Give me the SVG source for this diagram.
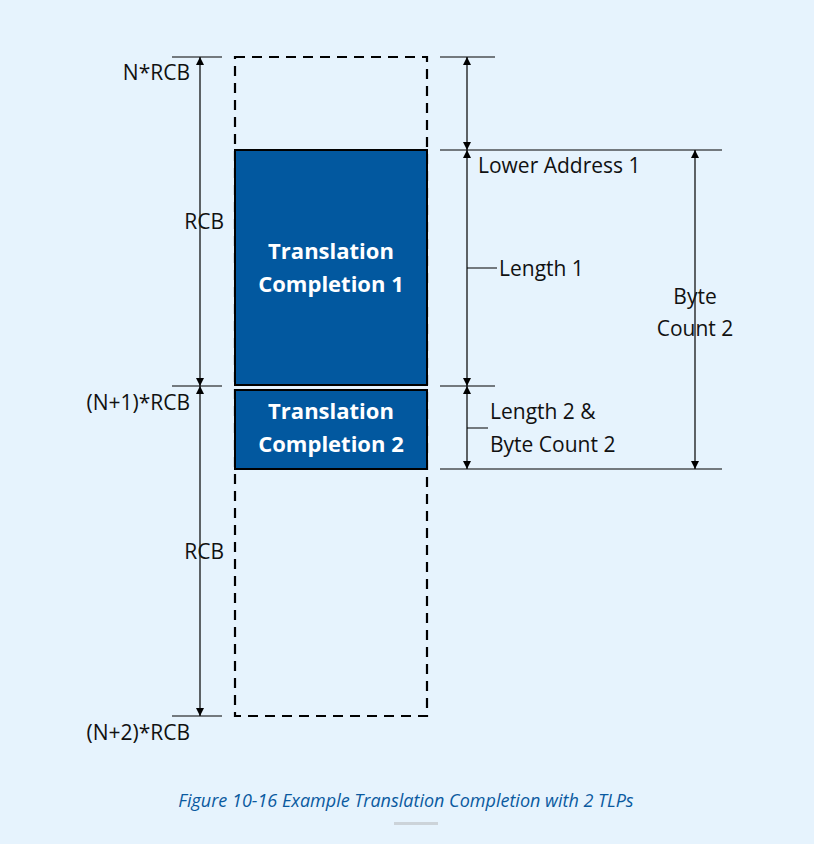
<svg xmlns="http://www.w3.org/2000/svg" width="814" height="844" viewBox="0 0 814 844">
<style>
.l{stroke:#000;stroke-width:1.2;fill:none}
.t{font-family:"Open Sans","Noto Sans",sans-serif;font-size:21px;fill:#111}
.w{font-family:"Open Sans","Noto Sans",sans-serif;font-size:22px;font-weight:bold;fill:#fff;text-anchor:middle}
</style>
<defs>
<marker id="a" viewBox="0 0 10 10" refX="10" refY="5" markerWidth="8" markerHeight="10" markerUnits="userSpaceOnUse" orient="auto-start-reverse"><path d="M0,0L10,5L0,10z" fill="#000"/></marker>
</defs>
<rect width="814" height="844" fill="#e6f3fd"/>
<g id="frame"><rect x="235" y="57" width="192" height="659" fill="none" stroke="#000" stroke-width="2.2" stroke-dasharray="10,7"/></g>
<g id="tc1"><rect x="235" y="150" width="192" height="235" fill="#02589f" stroke="#000" stroke-width="2"/>
<text class="w" x="331" y="259">Translation</text><text class="w" x="331" y="292">Completion 1</text></g>
<g id="tc2"><rect x="235" y="390" width="192" height="79" fill="#02589f" stroke="#000" stroke-width="2"/>
<text class="w" x="331" y="419">Translation</text><text class="w" x="331" y="452">Completion 2</text></g>
<g id="connectors">
<path class="l" d="M172,57H222M172,386H222M172,716H222M440,57H495M440,150H722M440,386H495M440,469H722M467,268H497M467,428H488"/>
<line class="l" x1="200" y1="386" x2="200" y2="57" marker-end="url(#a)" marker-start="url(#a)"/>
<line class="l" x1="200" y1="716" x2="200" y2="386" marker-end="url(#a)" marker-start="url(#a)"/>
<line class="l" x1="467" y1="57" x2="467" y2="150" marker-end="url(#a)" marker-start="url(#a)"/>
<line class="l" x1="467" y1="150" x2="467" y2="386" marker-end="url(#a)" marker-start="url(#a)"/>
<line class="l" x1="467" y1="386" x2="467" y2="469" marker-end="url(#a)" marker-start="url(#a)"/>
<line class="l" x1="695" y1="150" x2="695" y2="469" marker-end="url(#a)" marker-start="url(#a)"/>
</g>
<g id="labels">
<text class="t" x="190" y="80" text-anchor="end">N*RCB</text>
<text class="t" x="224" y="229" text-anchor="end">RCB</text>
<text class="t" x="190" y="410" text-anchor="end">(N+1)*RCB</text>
<text class="t" x="224" y="559" text-anchor="end">RCB</text>
<text class="t" x="190" y="740" text-anchor="end">(N+2)*RCB</text>
<text class="t" x="478" y="173">Lower Address 1</text>
<text class="t" x="499" y="276">Length 1</text>
<text class="t" x="490" y="419">Length 2 &amp;</text>
<text class="t" x="490" y="452">Byte Count 2</text>
<text class="t" x="695" y="304" text-anchor="middle" fill="#111">Byte</text>
<text class="t" x="695" y="336" text-anchor="middle">Count 2</text>
<text x="406" y="807" text-anchor="middle" font-family="Open Sans,sans-serif" font-style="italic" font-size="18" fill="#0a5aa0">Figure 10-16 Example Translation Completion with 2 TLPs</text>
</g>
<rect x="394" y="822" width="44" height="3" fill="#ccd3d9"/>
</svg>
